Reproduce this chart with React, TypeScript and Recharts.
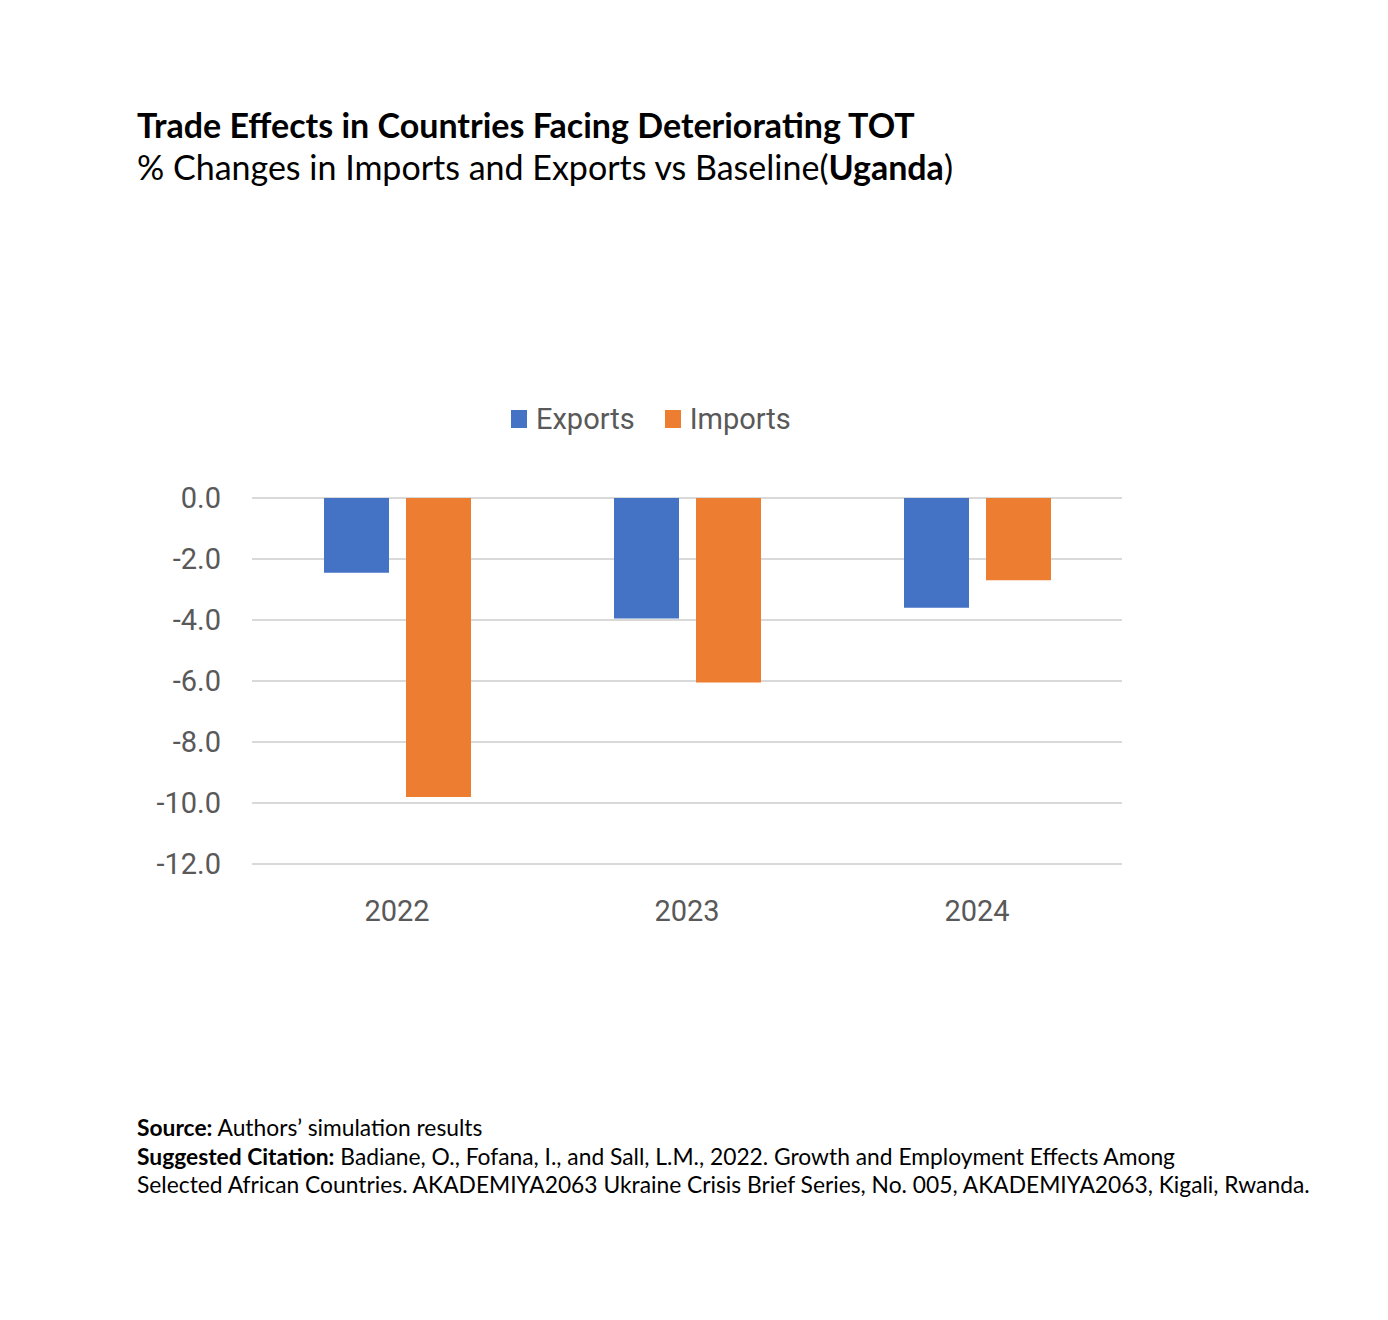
import { Bar, BarChart, CartesianGrid, Legend, XAxis, YAxis } from "recharts";

const years = ["2022", "2023", "2024"];
const exportsChange = [-2.45, -3.95, -3.6];
const importsChange = [-9.8, -6.05, -2.7];
const yTicks = [0, -2, -4, -6, -8, -10, -12];

const seriesMeta = [
  { key: "exports", name: "Exports", color: "#4472C4" },
  { key: "imports", name: "Imports", color: "#ED7D31" },
];

const data = years.map((year, i) => ({
  year,
  exports: exportsChange[i],
  imports: importsChange[i],
}));

const axisFont = "'Liberation Sans Narrow', 'Roboto', sans-serif";
const textFont = "Lato, 'Open Sans', sans-serif";

function LegendRow() {
  return (
    <div style={{ height: 103, position: "relative" }}>
      <div
        style={{
          position: "absolute",
          left: 511,
          top: 8,
          height: 32,
          display: "flex",
          alignItems: "center",
          gap: 30,
          fontFamily: axisFont,
          fontSize: 29,
          color: "#595959",
        }}
      >
        {seriesMeta.map((s) => (
          <div key={s.key} style={{ display: "flex", alignItems: "center", gap: 9 }}>
            <span style={{ width: 16, height: 18, background: s.color, display: "inline-block" }} />
            <span>{s.name}</span>
          </div>
        ))}
      </div>
    </div>
  );
}

export default function App() {
  return (
    <div
      style={{
        position: "absolute",
        left: 0,
        top: 0,
        width: 1388,
        height: 1320,
        background: "#ffffff",
        overflow: "hidden",
      }}
    >
      <div style={{ position: "absolute", left: 137, top: 104, fontFamily: textFont, color: "#000" }}>
        <div style={{ fontSize: 34, fontWeight: 700, lineHeight: "42px" }}>
          Trade Effects in Countries Facing Deteriorating TOT
        </div>
        <div style={{ fontSize: 34, lineHeight: "42px" }}>
          % Changes in Imports and Exports vs Baseline(<b>Uganda</b>)
        </div>
      </div>

      <div style={{ position: "absolute", left: 0, top: 395 }}>
        <BarChart
          width={1388}
          height={539}
          data={data}
          margin={{ top: 0, right: 266, bottom: 0, left: 0 }}
          barGap={17}
          barSize={65}
        >
          <Legend verticalAlign="top" content={() => <LegendRow />} />
          <CartesianGrid vertical={false} stroke="#d9d9d9" strokeWidth={2} />
          <XAxis
            dataKey="year"
            axisLine={false}
            tickLine={false}
            tickSize={0}
            tickMargin={36}
            height={70}
            tick={{ fill: "#595959", fontSize: 29, fontFamily: axisFont }}
          />
          <YAxis
            width={252}
            domain={[-12, 0]}
            ticks={yTicks}
            axisLine={false}
            tickLine={false}
            tickSize={0}
            tickMargin={31}
            tickFormatter={(v: number) => v.toFixed(1)}
            tick={{ fill: "#595959", fontSize: 29, fontFamily: axisFont }}
          />
          {seriesMeta.map((s) => (
            <Bar key={s.key} dataKey={s.key} name={s.name} fill={s.color} isAnimationActive={false} />
          ))}
        </BarChart>
      </div>

      <div
        style={{
          position: "absolute",
          left: 137,
          top: 1113,
          fontFamily: textFont,
          fontSize: 22.8,
          lineHeight: "28.5px",
          color: "#000",
        }}
      >
        <div>
          <b>Source:</b> Authors’ simulation results
        </div>
        <div>
          <b>Suggested Citation:</b> Badiane, O., Fofana, I., and Sall, L.M., 2022. Growth and Employment Effects Among
        </div>
        <div>
          Selected African Countries. AKADEMIYA2063 Ukraine Crisis Brief Series, No. 005, AKADEMIYA2063, Kigali, Rwanda.
        </div>
      </div>
    </div>
  );
}
